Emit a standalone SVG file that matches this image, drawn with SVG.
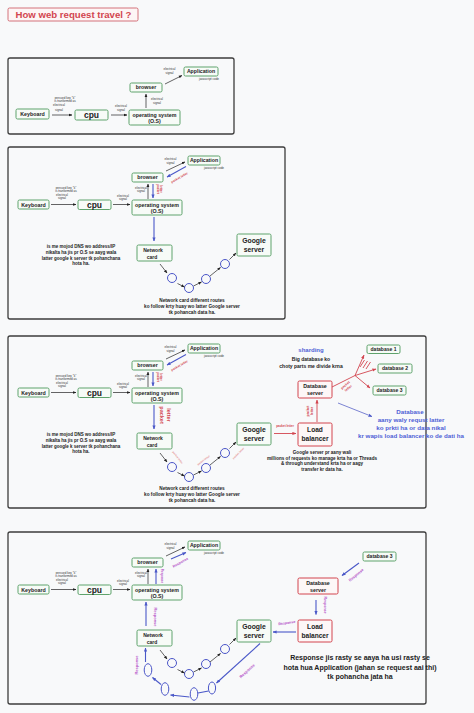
<svg xmlns="http://www.w3.org/2000/svg" width="474" height="713" viewBox="0 0 474 713">
<style>
.bg{fill:#f8f9fa}
.panel{fill:#f8f9fa;stroke:#3c3c3c;stroke-width:1.3}
.g{fill:#f7fbf7;stroke:#5fa36c;stroke-width:1}
.r{fill:#fdf7f7;stroke:#d2454f;stroke-width:1}
.t{font-family:"Liberation Sans",Arial,sans-serif;font-weight:bold;fill:#222;text-anchor:middle}
.s{font-family:"Liberation Sans",Arial,sans-serif;fill:#333;text-anchor:middle;font-size:3px}
.rt{font-family:"Liberation Sans",Arial,sans-serif;font-weight:bold;fill:#d2454f;text-anchor:middle}
.bt{font-family:"Liberation Sans",Arial,sans-serif;font-weight:bold;fill:#4f5fd6;text-anchor:middle}
.pt{font-family:"Liberation Sans",Arial,sans-serif;font-weight:bold;fill:#b452c8;text-anchor:middle}
.k{stroke:#222;stroke-width:0.7;fill:none}
.b{stroke:#4a58c8;stroke-width:1.1;fill:none}
.rd{stroke:#d2454f;stroke-width:0.9;fill:none}
.c{fill:#f8f9fa;stroke:#4a55c8;stroke-width:1}
</style>
<defs>
<marker id="ak" viewBox="0 0 10 10" refX="9" refY="5" markerWidth="3.5" markerHeight="3.5" markerUnits="userSpaceOnUse" orient="auto"><path d="M0,1 L10,5 L0,9 z" fill="#222"/></marker>
<marker id="ab" viewBox="0 0 10 10" refX="9" refY="5" markerWidth="4" markerHeight="4" markerUnits="userSpaceOnUse" orient="auto"><path d="M0,1 L10,5 L0,9 z" fill="#4a58c8"/></marker>
<marker id="ar" viewBox="0 0 10 10" refX="9" refY="5" markerWidth="4" markerHeight="4" markerUnits="userSpaceOnUse" orient="auto"><path d="M0,1 L10,5 L0,9 z" fill="#d2454f"/></marker>
</defs>
<rect class="bg" x="0" y="0" width="474" height="713"/>

<g id="title">
<rect x="8" y="8" width="130" height="13" rx="1.5" fill="#fdf5f5" stroke="#c9505a" stroke-width="0.8"/>
<text class="rt" x="73.5" y="17.6" font-size="9" textLength="116" lengthAdjust="spacingAndGlyphs" fill="#c0404a">How web request travel ?</text>
</g>

<!-- panels -->
<g id="panels">
<rect class="panel" x="8" y="58" width="226" height="76" rx="2"/>
<rect class="panel" x="8" y="147" width="277" height="172" rx="2"/>
<rect class="panel" x="8" y="336" width="418" height="172" rx="2"/>
<rect class="panel" x="8" y="532" width="418" height="172" rx="2"/>
</g>

<!-- ========== PANEL 1 ========== -->
<g id="p1-keyboard"><rect class="g" x="16" y="109" width="33" height="10" rx="1.5"/><text class="t" x="32.5" y="116" font-size="5.3">Keyboard</text></g>
<g id="p1-cpu"><rect class="g" x="75" y="110" width="33" height="10" rx="1.5"/><text class="t" x="91.5" y="117.8" font-size="8.5">cpu</text></g>
<g id="p1-os"><rect class="g" x="129" y="110" width="51" height="15" rx="1.5"/><text class="t" x="154.5" y="116.6" font-size="5.3">operating system</text><text class="t" x="154.5" y="122.6" font-size="5.3">(O.S)</text></g>
<g id="p1-browser"><rect class="g" x="130" y="83" width="32" height="9" rx="1.5"/><text class="t" x="146" y="89.3" font-size="5.3">browser</text></g>
<g id="p1-app"><rect class="g" x="184" y="67" width="34" height="9" rx="1.5"/><text class="t" x="201" y="73.3" font-size="5.2">Application</text><text class="s" x="209" y="79.5" font-size="2.6">javascript code</text></g>
<g id="p1-connectors">
<line class="k" x1="52" y1="115" x2="72" y2="115" marker-end="url(#ak)"/>
<text class="s" x="65" y="98.5">pressed key "k"</text><text class="s" x="65" y="102">is tranformed as</text><text class="s" x="59" y="105.8">electrical</text><text class="s" x="59" y="110.5">signal</text>
<line class="k" x1="111" y1="115" x2="127" y2="115" marker-end="url(#ak)"/>
<text class="s" x="121" y="107">electrical</text><text class="s" x="121" y="110.5">signal</text>
<line class="k" x1="146" y1="108" x2="146" y2="94" marker-end="url(#ak)"/>
<text class="s" x="157" y="99.5">electrical</text><text class="s" x="157" y="104">signal</text>
<line class="k" x1="165" y1="84" x2="182" y2="75.5" marker-end="url(#ak)"/>
<text class="s" x="169.5" y="70.3">electrical</text><text class="s" x="169.5" y="74">signal</text>
</g>

<!-- ========== PANEL 2 ========== -->
<g id="p2-keyboard"><rect class="g" x="18" y="200" width="31" height="9" rx="1.5"/><text class="t" x="33.5" y="206.5" font-size="5.3">Keyboard</text></g>
<g id="p2-cpu"><rect class="g" x="78" y="200" width="33" height="9.5" rx="1.5"/><text class="t" x="94.5" y="207.8" font-size="8.5">cpu</text></g>
<g id="p2-os"><rect class="g" x="132" y="200" width="50" height="15" rx="1.5"/><text class="t" x="157" y="206.6" font-size="5.3">operating system</text><text class="t" x="157" y="212.6" font-size="5.3">(O.S)</text></g>
<g id="p2-browser"><rect class="g" x="132" y="173" width="31" height="9" rx="1.5"/><text class="t" x="147.5" y="179.3" font-size="5.3">browser</text></g>
<g id="p2-app"><rect class="g" x="188" y="156" width="32" height="9" rx="1.5"/><text class="t" x="204" y="162.3" font-size="5.2">Application</text><text class="s" x="214" y="168.5" font-size="2.6">javascript code</text></g>
<g id="p2-network"><rect class="g" x="137" y="245" width="35" height="16" rx="1.5"/><text class="t" x="153" y="251.8" font-size="5">Network</text><text class="t" x="152" y="258.5" font-size="5">card</text></g>
<g id="p2-google"><rect class="g" x="237" y="234" width="34" height="22" rx="1.5"/><text class="t" x="254" y="243.3" font-size="6.8">Google</text><text class="t" x="254" y="251.8" font-size="6.8">server</text></g>
<g id="p2-routers"><circle class="c" cx="172" cy="278" r="4.5"/><circle class="c" cx="189" cy="288" r="4.5"/><circle class="c" cx="206" cy="279" r="4.5"/><circle class="c" cx="225" cy="264" r="4.5"/></g>
<g id="p2-connectors">
<line class="k" x1="51" y1="204.5" x2="76" y2="204.5" marker-end="url(#ak)"/>
<text class="s" x="66" y="188.5">pressed key "k"</text><text class="s" x="66" y="192">is tranformed as</text><text class="s" x="62" y="195.6">electrical</text><text class="s" x="62" y="199.3">signal</text>
<line class="k" x1="113" y1="204.5" x2="130" y2="204.5" marker-end="url(#ak)"/>
<text class="s" x="123" y="196.5">electrical</text><text class="s" x="123" y="200">signal</text>
<line class="k" x1="148" y1="199" x2="148" y2="184" marker-end="url(#ak)"/>
<text class="s" x="141" y="189" font-size="2.4">electrical</text><text class="s" x="141" y="191.7" font-size="2.4">signal</text>
<line class="b" x1="153" y1="184" x2="153" y2="198" marker-end="url(#ab)"/>
<text class="rt" font-size="3" transform="translate(157,189) rotate(90)">packet</text>
<text class="rt" font-size="3" transform="translate(160,189) rotate(90)">letter</text>
<line class="k" x1="166" y1="171" x2="185" y2="162" marker-end="url(#ak)"/>
<text class="s" x="170.5" y="160">electrical</text><text class="s" x="170.5" y="163.6">signal</text>
<line class="b" x1="186" y1="166.5" x2="167" y2="177" marker-end="url(#ab)"/>
<text class="rt" font-size="3.2" transform="translate(180,178.5) rotate(-30)">packet letter</text>
<line class="b" x1="154" y1="217" x2="154" y2="241" marker-end="url(#ab)"/>
<line class="k" x1="160" y1="264" x2="167" y2="273" marker-end="url(#ak)"/>
<line class="k" x1="177.5" y1="283.5" x2="184.5" y2="287" marker-end="url(#ak)"/>
<line class="k" x1="193.5" y1="286" x2="201.5" y2="282" marker-end="url(#ak)"/>
<line class="k" x1="210" y1="276" x2="220.5" y2="267.5" marker-end="url(#ak)"/>
<line class="k" x1="229.5" y1="259.5" x2="236" y2="253" marker-end="url(#ak)"/>
</g>
<g id="p2-notes">
<text class="t" x="81" y="248" font-size="4.5">is me mojod DNS wo address/IP</text>
<text class="t" x="81" y="253.8" font-size="4.5">nikalta ha jis pr O.S se aayg wala</text>
<text class="t" x="81" y="259.6" font-size="4.5">latter google k server tk pohanchana</text>
<text class="t" x="81" y="265.4" font-size="4.5">hota ha.</text>
<text class="t" x="192" y="302" font-size="4.7">Network card different routes</text>
<text class="t" x="192" y="307.8" font-size="4.7">ko follow krty huay wo latter Google server</text>
<text class="t" x="192" y="313.6" font-size="4.7">tk pohancah data ha.</text>
</g>

<!-- ========== PANEL 3 ========== -->
<g id="p3-keyboard" transform="translate(0,188)"><rect class="g" x="18" y="200" width="31" height="9" rx="1.5"/><text class="t" x="33.5" y="206.5" font-size="5.3">Keyboard</text></g>
<g id="p3-cpu" transform="translate(0,188)"><rect class="g" x="78" y="200" width="33" height="9.5" rx="1.5"/><text class="t" x="94.5" y="207.8" font-size="8.5">cpu</text></g>
<g id="p3-os" transform="translate(0,188)"><rect class="g" x="132" y="200" width="50" height="15" rx="1.5"/><text class="t" x="157" y="206.6" font-size="5.3">operating system</text><text class="t" x="157" y="212.6" font-size="5.3">(O.S)</text></g>
<g id="p3-browser" transform="translate(0,188)"><rect class="g" x="132" y="173" width="31" height="9" rx="1.5"/><text class="t" x="147.5" y="179.3" font-size="5.3">browser</text></g>
<g id="p3-app" transform="translate(0,188)"><rect class="g" x="188" y="156" width="32" height="9" rx="1.5"/><text class="t" x="204" y="162.3" font-size="5.2">Application</text><text class="s" x="214" y="168.5" font-size="2.6">javascript code</text></g>
<g id="p3-network" transform="translate(0,188)"><rect class="g" x="137" y="245" width="35" height="16" rx="1.5"/><text class="t" x="153" y="251.8" font-size="5">Network</text><text class="t" x="152" y="258.5" font-size="5">card</text></g>
<g id="p3-google" transform="translate(0,189)"><rect class="g" x="237" y="234" width="34" height="22" rx="1.5"/><text class="t" x="254" y="243.3" font-size="6.8">Google</text><text class="t" x="254" y="251.8" font-size="6.8">server</text></g>
<g id="p3-routers" transform="translate(0,189)"><circle class="c" cx="172" cy="278" r="4.5"/><circle class="c" cx="189" cy="288" r="4.5"/><circle class="c" cx="206" cy="279" r="4.5"/><circle class="c" cx="225" cy="264" r="4.5"/></g>
<g id="p3-loadbalancer"><rect class="r" x="298" y="423" width="34" height="23" rx="1.5"/><text class="t" x="315" y="432.3" font-size="6.6">Load</text><text class="t" x="315" y="441" font-size="6.6">balancer</text></g>
<g id="p3-dbserver"><rect class="r" x="298" y="381" width="34" height="17" rx="1.5"/><text class="t" x="315" y="388.3" font-size="5.3">Database</text><text class="t" x="315" y="395.3" font-size="5.3">server</text></g>
<g id="p3-db1"><rect class="g" x="367" y="345" width="33" height="8.5" rx="1.5"/><text class="t" x="383.5" y="351" font-size="5">database 1</text></g>
<g id="p3-db2"><rect class="g" x="378" y="364" width="34" height="9" rx="1.5"/><text class="t" x="395" y="370.3" font-size="5">database 2</text></g>
<g id="p3-db3"><rect class="g" x="373" y="386" width="33" height="9" rx="1.5"/><text class="t" x="389.5" y="392.3" font-size="5">database 3</text></g>
<g id="p3-connectors">
<g transform="translate(0,188)">
<line class="k" x1="51" y1="204.5" x2="76" y2="204.5" marker-end="url(#ak)"/>
<text class="s" x="66" y="188.5">pressed key "k"</text><text class="s" x="66" y="192">is tranformed as</text><text class="s" x="62" y="195.6">electrical</text><text class="s" x="62" y="199.3">signal</text>
<line class="k" x1="113" y1="204.5" x2="130" y2="204.5" marker-end="url(#ak)"/>
<text class="s" x="123" y="196.5">electrical</text><text class="s" x="123" y="200">signal</text>
<line class="k" x1="148" y1="199" x2="148" y2="184" marker-end="url(#ak)"/>
<text class="s" x="141" y="189" font-size="2.4">electrical</text><text class="s" x="141" y="191.7" font-size="2.4">signal</text>
<line class="b" x1="153" y1="184" x2="153" y2="198" marker-end="url(#ab)"/>
<text class="rt" font-size="3" transform="translate(157,189) rotate(90)">packet</text>
<text class="rt" font-size="3" transform="translate(160,189) rotate(90)">letter</text>
<line class="k" x1="166" y1="171" x2="185" y2="162" marker-end="url(#ak)"/>
<text class="s" x="170.5" y="160">electrical</text><text class="s" x="170.5" y="163.6">signal</text>
<line class="b" x1="186" y1="166.5" x2="167" y2="177" marker-end="url(#ab)"/>
<text class="rt" font-size="3.2" transform="translate(180,178.5) rotate(-30)">packet letter</text>
<line class="b" x1="154" y1="217" x2="154" y2="241" marker-end="url(#ab)"/>
<text class="rt" font-size="5.5" transform="translate(160,227) rotate(90)">packet</text>
<text class="rt" font-size="5.5" transform="translate(167,227) rotate(90)">letter</text>
<line class="k" x1="160" y1="265" x2="167" y2="274" marker-end="url(#ak)"/>
<line class="k" x1="177.5" y1="284.5" x2="184.5" y2="288" marker-end="url(#ak)"/>
<line class="k" x1="193.5" y1="287" x2="201.5" y2="283" marker-end="url(#ak)"/>
<line class="k" x1="210" y1="277" x2="220.5" y2="268.5" marker-end="url(#ak)"/>
<line class="k" x1="229.5" y1="260.5" x2="236" y2="254" marker-end="url(#ak)"/>
<text class="rt" font-size="2.6" fill="#e08a8a" style="fill:#e48f8f" transform="translate(177,270) rotate(52)">packet letter</text>
<text class="rt" font-size="2.6" style="fill:#e48f8f" transform="translate(204,273) rotate(-37)">packet letter</text>
<text class="rt" font-size="2.6" style="fill:#e48f8f" transform="translate(239,266) rotate(-45)">packet letter</text>
</g>
<line class="rd" x1="274" y1="433.5" x2="296" y2="433.5" marker-end="url(#ar)"/>
<text class="rt" x="285" y="427" font-size="3">packet letter</text>
<line class="rd" x1="317" y1="422" x2="317" y2="400" marker-end="url(#ar)"/>
<text class="rt" font-size="3.4" transform="translate(309,411) rotate(-90)">packet</text>
<text class="rt" font-size="3.4" transform="translate(313,411) rotate(-90)">letter</text>
<line class="rd" x1="332" y1="387" x2="355" y2="375.5"/>
<text class="rt" font-size="3.4" transform="translate(346,386) rotate(-40)">packet</text>
<text class="rt" font-size="3.4" transform="translate(349,389) rotate(-40)">letter</text>
<line class="rd" x1="355" y1="375.5" x2="364" y2="355" marker-end="url(#ar)"/>
<line class="rd" x1="355" y1="375.5" x2="376" y2="369" marker-end="url(#ar)"/>
<line class="rd" x1="355" y1="375.5" x2="370" y2="388" marker-end="url(#ar)"/>
<line class="rd" x1="360" y1="367" x2="364.5" y2="360" stroke-width="0.7"/>
<line class="rd" x1="363" y1="368" x2="367.5" y2="361" stroke-width="0.7"/>
<line class="rd" x1="366" y1="369" x2="370.5" y2="362" stroke-width="0.7"/>
<line x1="338" y1="403" x2="372" y2="416.5" stroke="#5a64c8" stroke-width="0.8" marker-end="url(#ab)"/>
</g>
<g id="p3-notes">
<text class="t" x="81" y="436" font-size="4.5">is me mojod DNS wo address/IP</text>
<text class="t" x="81" y="441.8" font-size="4.5">nikalta ha jis pr O.S se aayg wala</text>
<text class="t" x="81" y="447.6" font-size="4.5">latter google k server tk pohanchana</text>
<text class="t" x="81" y="453.4" font-size="4.5">hota ha.</text>
<text class="t" x="192" y="490" font-size="4.7">Network card different routes</text>
<text class="t" x="192" y="495.8" font-size="4.7">ko follow krty huay wo latter Google server</text>
<text class="t" x="192" y="501.6" font-size="4.7">tk pohancah data ha.</text>
<text class="t" x="322" y="454" font-size="4.6">Google server pr aany wali</text>
<text class="t" x="322" y="459.6" font-size="4.6">millions of requests ko manage krta ha or Threads</text>
<text class="t" x="322" y="465.2" font-size="4.6">&amp; through understand krta ha or aagy</text>
<text class="t" x="322" y="471" font-size="4.6">transfer kr data ha.</text>
<text class="bt" x="311" y="352" font-size="6">sharding</text>
<text class="t" x="311" y="361" font-size="5">Big database ko</text>
<text class="t" x="311" y="368" font-size="5">choty parts me divide krna</text>
<text class="bt" x="410" y="414" font-size="6.2">Database</text>
<text class="bt" x="411" y="422" font-size="6.2">aany waly requst latter</text>
<text class="bt" x="411" y="430" font-size="6.2">ko prkti ha or data nikal</text>
<text class="bt" x="411" y="438" font-size="6.2">kr wapis load balancer ko de dati ha</text>
</g>

<!-- ========== PANEL 4 ========== -->
<g id="p4-keyboard" transform="translate(0,385)"><rect class="g" x="18" y="200" width="31" height="9" rx="1.5"/><text class="t" x="33.5" y="206.5" font-size="5.3">Keyboard</text></g>
<g id="p4-cpu" transform="translate(0,385)"><rect class="g" x="78" y="200" width="33" height="9.5" rx="1.5"/><text class="t" x="94.5" y="207.8" font-size="8.5">cpu</text></g>
<g id="p4-os" transform="translate(0,385)"><rect class="g" x="132" y="200" width="50" height="15" rx="1.5"/><text class="t" x="157" y="206.6" font-size="5.3">operating system</text><text class="t" x="157" y="212.6" font-size="5.3">(O.S)</text></g>
<g id="p4-browser" transform="translate(0,385)"><rect class="g" x="132" y="173" width="31" height="9" rx="1.5"/><text class="t" x="147.5" y="179.3" font-size="5.3">browser</text></g>
<g id="p4-app" transform="translate(0,385)"><rect class="g" x="188" y="156" width="32" height="9" rx="1.5"/><text class="t" x="204" y="162.3" font-size="5.2">Application</text><text class="s" x="214" y="168.5" font-size="2.6">javascript code</text></g>
<g id="p4-network" transform="translate(0,385)"><rect class="g" x="137" y="245" width="35" height="16" rx="1.5"/><text class="t" x="153" y="251.8" font-size="5">Network</text><text class="t" x="152" y="258.5" font-size="5">card</text></g>
<g id="p4-google" transform="translate(0,386)"><rect class="g" x="237" y="234" width="34" height="22" rx="1.5"/><text class="t" x="254" y="243.3" font-size="6.8">Google</text><text class="t" x="254" y="251.8" font-size="6.8">server</text></g>
<g id="p4-routers" transform="translate(0,385)"><circle class="c" cx="172" cy="278" r="4.5"/><circle class="c" cx="189" cy="289" r="4.5"/><circle class="c" cx="206" cy="279" r="4.5"/><circle class="c" cx="225" cy="264" r="4.5"/></g>
<g id="p4-return-routers"><ellipse class="c" cx="212" cy="688" rx="3.6" ry="6"/><ellipse class="c" cx="194" cy="694" rx="3.8" ry="6.3"/><ellipse class="c" cx="165" cy="689" rx="3.8" ry="6.3"/><ellipse class="c" cx="148" cy="670" rx="3.8" ry="6.3"/></g>
<g id="p4-loadbalancer"><rect class="r" x="298" y="620" width="34" height="22" rx="1.5"/><text class="t" x="315" y="629" font-size="6.6">Load</text><text class="t" x="315" y="637.8" font-size="6.6">balancer</text></g>
<g id="p4-dbserver"><rect class="r" x="298" y="578" width="40" height="16" rx="1.5"/><text class="t" x="318" y="584.8" font-size="5.3">Database</text><text class="t" x="318" y="591.6" font-size="5.3">server</text></g>
<g id="p4-db3"><rect class="g" x="363" y="552" width="33" height="9" rx="1.5"/><text class="t" x="379.5" y="558.3" font-size="5">database 3</text></g>
<g id="p4-connectors">
<g transform="translate(0,385)">
<line class="k" x1="51" y1="204.5" x2="76" y2="204.5" marker-end="url(#ak)"/>
<text class="s" x="66" y="188.5">pressed key "k"</text><text class="s" x="66" y="192">is tranformed as</text><text class="s" x="62" y="195.6">electrical</text><text class="s" x="62" y="199.3">signal</text>
<line class="k" x1="113" y1="204.5" x2="130" y2="204.5" marker-end="url(#ak)"/>
<text class="s" x="123" y="196.5">electrical</text><text class="s" x="123" y="200">signal</text>
<line class="k" x1="148" y1="199" x2="148" y2="184" marker-end="url(#ak)"/>
<text class="s" x="141" y="189" font-size="2.4">electrical</text><text class="s" x="141" y="191.7" font-size="2.4">signal</text>
<line class="b" x1="156" y1="199" x2="156" y2="184" marker-end="url(#ab)"/>
<text class="pt" font-size="3" transform="translate(160.5,191) rotate(90)">Response</text>
<line class="k" x1="166" y1="171" x2="185" y2="162" marker-end="url(#ak)"/>
<text class="s" x="170.5" y="160">electrical</text><text class="s" x="170.5" y="163.6">signal</text>
<line class="b" x1="171" y1="174" x2="186" y2="167.5" marker-end="url(#ab)"/>
<text class="pt" font-size="3.6" transform="translate(181,178.5) rotate(-30)">Response</text>
<line class="k" x1="160" y1="265" x2="167" y2="274" marker-end="url(#ak)"/>
<line class="k" x1="177.5" y1="284.5" x2="184.5" y2="288" marker-end="url(#ak)"/>
<line class="k" x1="193.5" y1="287" x2="201.5" y2="283" marker-end="url(#ak)"/>
<line class="k" x1="210" y1="277" x2="220.5" y2="268.5" marker-end="url(#ak)"/>
<line class="k" x1="229.5" y1="259.5" x2="236" y2="253" marker-end="url(#ak)"/>
</g>
<line class="b" x1="146" y1="626" x2="146" y2="602" marker-end="url(#ab)"/>
<text class="pt" font-size="4" transform="translate(154,617) rotate(90)">Response</text>
<line class="b" x1="359" y1="563" x2="342" y2="575.5" marker-end="url(#ab)"/>
<text class="pt" font-size="3.8" transform="translate(357,576) rotate(-40)">Response</text>
<line class="b" x1="316" y1="600" x2="316" y2="614.5" marker-end="url(#ab)"/>
<text class="pt" font-size="3.6" transform="translate(323.5,605) rotate(90)">Response</text>
<line class="b" x1="296" y1="632" x2="273" y2="632" marker-end="url(#ab)"/>
<text class="pt" font-size="3.6" transform="translate(287,624) rotate(-8)">Response</text>
<line class="b" x1="260" y1="643.5" x2="216.5" y2="683" marker-end="url(#ab)"/>
<text class="pt" font-size="4" transform="translate(248,672) rotate(-42)">Response</text>
<line class="b" x1="208.5" y1="691" x2="198" y2="693" stroke-width="0.8"/>
<line class="b" x1="189.5" y1="697" x2="170.5" y2="695" stroke-width="0.8" marker-end="url(#ab)"/>
<line class="b" x1="161" y1="684.5" x2="152.5" y2="677.5" stroke-width="0.8" marker-end="url(#ab)"/>
<line class="b" x1="145.5" y1="662" x2="145.5" y2="648" stroke-width="0.8" marker-end="url(#ab)"/>
<text class="pt" font-size="4" transform="translate(138,665) rotate(-90)">Response</text>
</g>
<g id="p4-notes">
<text class="t" x="360" y="660" font-size="7">Response jis rasty se aaya ha usi rasty se</text>
<text class="t" x="360" y="669.5" font-size="7">hota hua Application (jahan se request aai thi)</text>
<text class="t" x="360" y="679" font-size="7">tk pohancha jata ha</text>
</g>
</svg>
